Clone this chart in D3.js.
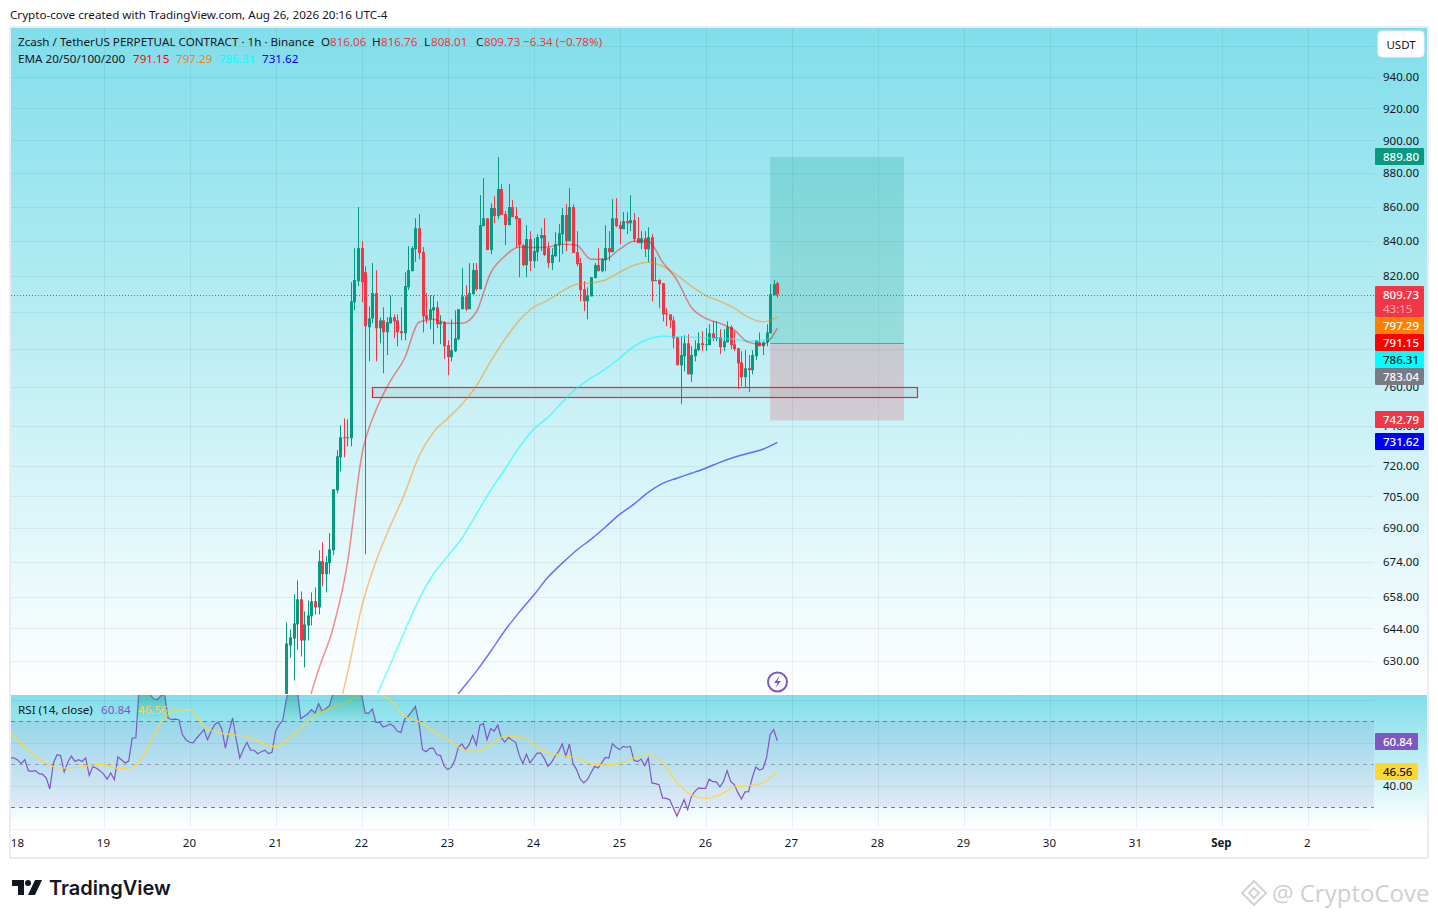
<!DOCTYPE html>
<html>
<head>
<meta charset="utf-8">
<title>ZECUSDT.P 1h</title>
<script src="https://cdn.jsdelivr.net/npm/d3@7"></script>
<style>
  html, body { margin: 0; padding: 0; background: #fff; }
  svg { display: block; }
  text { font-family: "Noto Sans", sans-serif; font-size: 11.5px; fill: #131722; }
  text.label { font-size: 11.65px; }
</style>
</head>
<body>
<svg id="chart" width="1438" height="918"></svg>
<script>
// hourly candles, oldest first, the first one opens at firstBar
const firstBar = Date.UTC(2026, 7, 21, 3);
const lastBar = Date.UTC(2026, 7, 26, 20);

const opens = [
  610.5,636.5,639.6,645.8,657.0,638.7,645.3,649.4,656.1,653.4,
  674.4,668.4,673.5,679.5,708.0,724.2,734.2,733.7,733.7,805.5,
  817.2,835.9,822.2,791.8,796.6,810.5,791.2,795.5,789.0,793.9,
  797.2,795.5,789.6,788.5,813.8,822.8,835.3,847.4,833.6,798.3,
  796.1,801.0,802.7,793.4,794.5,782.1,775.7,778.9,785.3,801.6,
  808.7,801.6,809.9,823.4,812.7,848.6,853.2,834.8,859.2,854.5,
  870.5,855.7,849.2,859.8,854.5,853.2,837.6,826.2,841.1,828.5,
  833.6,841.6,843.4,835.9,827.4,831.4,837.6,844.0,855.1,839.9,
  859.8,833.6,827.4,812.7,806.0,808.7,818.9,826.2,822.8,829.0,
  835.9,833.6,853.2,849.2,846.9,851.5,850.3,852.1,841.6,838.8,
  841.6,835.3,842.2,817.2,817.8,816.1,799.4,798.8,795.5,786.4,
  771.4,776.2,783.1,766.6,776.2,779.4,783.1,782.1,782.1,788.5,
  785.8,786.4,781.0,783.6,791.8,782.6,780.5,772.9,765.1,769.8,
  768.8,776.2,783.6,781.5,783.6,788.5,809.3,816.06
];
const highs = [
  646.7,643.6,659.2,665.6,660.6,651.6,656.5,660.1,662.4,679.5,
  683.2,676.7,687.5,708.5,727.7,740.3,743.8,743.3,816.6,835.9,
  859.8,839.9,825.6,803.2,827.4,823.4,797.2,802.7,797.2,809.3,
  798.8,798.8,802.7,822.2,837.0,837.0,853.2,855.7,836.5,810.5,
  809.3,809.3,806.0,798.3,795.0,784.7,796.1,801.0,801.6,824.5,
  814.9,827.4,827.4,827.4,866.9,877.0,853.2,862.1,866.3,889.8,
  873.4,857.5,873.4,863.9,859.8,853.2,838.2,849.2,845.7,841.6,
  844.0,847.4,853.2,839.3,835.9,845.1,849.8,859.2,861.5,871.1,
  861.5,845.7,830.2,817.2,813.8,819.4,827.4,835.9,830.2,849.2,
  845.7,864.5,865.1,851.5,856.9,856.9,866.9,856.3,853.9,845.7,
  845.7,848.0,844.0,830.8,818.3,816.1,802.2,798.8,797.7,786.4,
  786.9,787.4,788.0,781.5,784.7,789.0,789.6,791.2,793.4,795.0,
  795.0,790.7,790.7,795.0,792.8,789.6,780.5,778.9,779.4,776.8,
  779.4,784.7,789.0,784.2,793.4,815.5,817.8,816.76
];
const lows = [
  608.4,631.3,621.4,634.8,631.7,627.0,638.7,645.3,650.2,650.2,
  662.9,660.1,668.4,677.2,706.5,717.3,724.2,729.7,729.7,801.0,
  814.4,805.5,677.6,773.5,793.9,773.5,783.1,767.2,776.8,793.9,
  785.8,781.5,784.7,784.7,812.2,822.8,828.0,829.6,789.0,793.9,
  790.7,782.6,791.2,782.6,774.6,766.1,773.5,778.4,784.7,801.6,
  800.5,801.6,809.9,811.6,812.7,848.6,834.8,832.5,850.3,852.7,
  855.1,837.6,849.2,853.9,836.5,819.4,825.6,819.4,822.8,824.5,
  828.5,834.2,831.4,824.5,823.4,830.8,828.0,832.5,834.2,839.9,
  833.1,825.6,806.0,800.5,796.1,808.7,818.9,822.8,822.2,822.8,
  828.5,833.6,848.0,838.2,846.9,844.0,845.7,839.3,838.8,835.3,
  830.8,828.0,806.0,817.2,802.2,795.0,792.3,791.2,780.5,771.4,
  751.1,768.2,766.6,762.5,773.5,778.9,778.9,778.9,782.1,784.2,
  784.2,777.3,778.9,783.6,780.0,778.9,758.8,760.4,759.9,757.3,
  766.6,774.1,781.5,776.8,781.5,788.5,809.3,808.01
];
const closes = [
  637.4,640.1,646.2,657.0,638.7,645.8,649.8,656.1,653.4,674.4,
  668.4,673.9,679.9,708.5,724.7,734.2,733.7,734.2,806.0,817.8,
  835.9,816.6,792.3,796.6,810.5,791.2,795.5,789.0,794.5,797.2,
  795.0,789.0,788.5,814.4,823.4,835.9,847.4,833.1,797.7,796.1,
  801.6,802.7,793.4,794.5,781.5,775.7,779.4,785.8,801.6,808.7,
  801.6,810.5,823.4,812.7,849.2,853.2,834.8,859.2,854.5,870.5,
  855.1,849.2,859.8,853.9,852.7,837.6,826.2,841.1,828.5,834.2,
  842.2,843.4,832.0,827.4,832.0,838.2,844.5,855.1,839.9,859.8,
  833.1,826.8,812.2,806.0,809.3,819.4,826.2,822.8,829.6,835.9,
  833.6,853.2,848.6,846.9,851.5,850.3,852.1,841.1,838.8,841.6,
  835.3,842.2,817.2,817.8,815.5,798.8,798.8,795.5,785.8,771.4,
  776.8,783.1,766.6,776.8,780.0,783.1,782.1,782.6,788.5,785.8,
  786.4,781.0,784.2,791.8,782.1,780.0,772.4,765.1,769.8,768.8,
  776.8,784.7,781.5,783.6,789.0,809.9,815.5,809.73
];

// these are read every 4 hours, newest first, going back from lastBar
const ema20 = [791.15,782.6,783.6,790.2,793.9,796.6,802.7,817.8,827.9,839.9,839.9,835.3,829.6,829.6,837.6,838.2,836.5,836.2,836.5,831.4,821.7,800.0,793.9,793.9,796.1,794.5,775.1,763.0,747.9,724.7,673.0,644.0,626.1,606.3];
const ema50 = [797.29,794.7,797.2,802.2,806.0,809.3,814.4,820.6,825.6,827.9,826.2,822.2,817.8,816.1,815.5,811.6,806.5,802.7,795.5,785.3,773.5,760.4,751.1,743.8,736.7,724.7,706.3,690.8,674.4,653.4,624.0,600.0];
const ema100 = [786.31,784.7,784.2,785.3,785.8,786.1,786.4,786.6,786.9,785.3,781.5,775.1,769.3,764.6,759.3,752.1,744.3,738.2,729.2,718.3,708.0,696.4,685.1,676.7,668.4,657.0,642.7,628.3,614.3];
const ema200 = [731.62,728.2,726.2,724.2,721.7,718.8,716.3,713.9,711.4,707.0,701.3,696.4,690.3,684.6,679.5,673.5,667.0,658.8,651.2,643.1,633.9,625.3,617.7,610.1];
const rsiMa = [46.56,41.3,39.9,39.3,35.7,34.0,35.7,41.6,50.5,54.3,52.8,50.2,49.5,50.2,52.8,54.0,55.4,59.0,62.9,62.9,59.0,55.9,57.0,61.3,65.2,69.8,72.2,79.6,82.2,82.2,78.7,76.4,73.4,68.3,62.4,57.9,59.8,62.9,63.6,64.7,67.5,75.3,75.0,69.1,56.7,48.3,48.0,49.8,49.2,48.3,48.1,50.2,55.1,61.3,67.2];

// hourly, oldest first, ends at lastBar
const rsi = [
  52.9,52.8,51.9,50.2,52.0,46.9,46.6,46.9,45.5,45.2,43.5,38.4,50.5,54.3,53.9,46.3,50.8,53.7,51.2,52.0,
  51.2,52.8,44.7,48.8,48.0,46.9,45.3,43.0,45.8,42.7,53.3,52.0,50.5,51.4,62.1,62.1,87.7,89.2,88.4,82.2,
  80.2,79.9,81.8,82.7,71.4,70.6,70.9,70.6,63.6,61.3,60.1,59.8,62.1,64.0,66.0,61.3,65.2,68.3,69.5,66.3,
  57.4,65.2,71.4,61.3,52.8,56.7,60.1,56.4,56.4,54.8,55.7,56.4,54.8,55.4,65.2,68.3,70.3,80.2,86.1,86.9,
  85.3,71.1,72.2,73.4,75.3,73.7,78.1,74.5,75.7,77.1,82.7,83.8,85.3,86.1,85.8,86.1,88.4,86.1,82.2,73.7,
  73.7,75.6,69.4,69.4,67.2,67.8,68.6,67.5,65.2,
  64.7,70.9,72.2,74.5,76.8,69.1,56.7,55.7,57.3,57.4,54.3,54.0,49.2,47.4,48.4,51.6,57.8,59.3,56.7,59.0,
  63.3,58.7,68.1,68.8,61.3,66.4,65.3,68.1,62.1,60.2,62.4,61.0,60.1,54.0,50.2,54.5,50.5,52.8,55.1,55.1,
  52.5,48.9,50.8,53.6,55.9,59.3,53.6,59.3,50.2,47.4,43.0,41.2,42.7,45.8,48.9,48.1,50.5,53.1,52.8,59.5,
  57.8,56.7,58.2,57.8,58.2,51.7,51.1,52.3,49.2,52.8,41.2,40.9,40.4,34.2,34.0,33.4,29.5,25.7,29.5,33.4,
  28.8,34.7,37.3,38.8,38.7,38.7,42.9,41.8,41.7,39.3,41.9,46.9,41.9,40.4,36.8,33.7,37.0,37.1,43.5,48.6,
  47.2,47.8,52.8,63.6,66.0,60.84
];

const priceGrid = [960,940,920,900,880,860,840,820,800,780,760,740,720,705,690,674,658,644,630];
// 800 and 780 sit fully behind the price tags, so they get no label
const priceLabels = [940,920,900,880,860,840,820,760,740,720,705,690,674,658,644,630];
const rsiGrid = [80,60,40,20];
const rsiLabels = [40];
const dayTicks = [18,19,20,21,22,23,24,25,26,27,28,29,30,31].map(d => Date.UTC(2026,7,d)).concat([Date.UTC(2026,8,1), Date.UTC(2026,8,2)]);

// position tool and the support box
const positionHigh = 889.80, positionEntry = 783.04, positionLow = 742.79;
const positionTimes = [Date.UTC(2026,7,26,18), Date.UTC(2026,7,28,7,20)];
const zoneTop = 759.3, zoneBottom = 754.0;
const zoneTimes = [Date.UTC(2026,7,22,3), Date.UTC(2026,7,28,11,10)];

const green = "#089981", red = "#f23645", purple = "#7e57c2", yellow = "#fdd835";

// layout
const paneLeft = 11, paneRight = 1374, frameRight = 1427;
const mainTop = 28, mainBottom = 694, rsiTop = 695, rsiBottom = 828;

const svg = d3.select("#chart");
const HOUR = 3600000;

const x = d3.scaleUtc()
  .domain([Date.UTC(2026,7,18), Date.UTC(2026,8,2)])
  .range([17.6, 1307.6]);
const y = d3.scaleLog().domain([630, 940]).range([660.5, 77]);
const yRsi = d3.scaleLinear().domain([30, 70]).range([807, 721]);

const defs = svg.append("defs");

function addGradient(id, y1, y2) {
  const g = defs.append("linearGradient").attr("id", id)
    .attr("gradientUnits", "userSpaceOnUse")
    .attr("x1", 0).attr("x2", 0).attr("y1", y1).attr("y2", y2);
  g.append("stop").attr("offset", 0).attr("stop-color", "#80deea");
  g.append("stop").attr("offset", 1).attr("stop-color", "#ffffff");
}
addGradient("bgMain", mainTop, mainBottom);
addGradient("bgRsi", rsiTop, rsiBottom);

const overFill = defs.append("linearGradient").attr("id", "overFill")
  .attr("gradientUnits", "userSpaceOnUse")
  .attr("x1", 0).attr("x2", 0).attr("y1", rsiTop).attr("y2", yRsi(70));
overFill.append("stop").attr("offset", 0).attr("stop-color", green).attr("stop-opacity", 0.38);
overFill.append("stop").attr("offset", 1).attr("stop-color", green).attr("stop-opacity", 0.03);

function addClip(id, top, bottom) {
  defs.append("clipPath").attr("id", id).append("rect")
    .attr("x", paneLeft).attr("width", paneRight - paneLeft)
    .attr("y", top).attr("height", bottom - top);
}
addClip("clipMain", mainTop, mainBottom);
addClip("clipRsi", rsiTop, rsiBottom);
addClip("clipOver", rsiTop, yRsi(70));
addClip("clipUnder", yRsi(30), rsiBottom);

// backgrounds and frame
svg.append("rect").attr("x", 10).attr("y", 27).attr("width", 1418).attr("height", 831)
  .attr("fill", "#fff").attr("stroke", "#e9ecf2").attr("stroke-width", 2);
svg.append("rect").attr("x", paneLeft).attr("y", mainTop)
  .attr("width", frameRight - paneLeft).attr("height", mainBottom - mainTop).attr("fill", "url(#bgMain)");
svg.append("rect").attr("x", paneLeft).attr("y", rsiTop)
  .attr("width", frameRight - paneLeft).attr("height", rsiBottom - rsiTop).attr("fill", "url(#bgRsi)");

// grid
const gridColor = "rgba(42,46,57,0.07)";
const grid = svg.append("g").attr("stroke", gridColor).attr("stroke-width", 1);
grid.selectAll(".h").data(priceGrid).enter().append("line")
  .attr("x1", paneLeft).attr("x2", paneRight)
  .attr("y1", d => Math.round(y(d)) + 0.5).attr("y2", d => Math.round(y(d)) + 0.5);
grid.selectAll(".r").data(rsiGrid).enter().append("line")
  .attr("x1", paneLeft).attr("x2", paneRight)
  .attr("y1", d => Math.round(yRsi(d)) + 0.5).attr("y2", d => Math.round(yRsi(d)) + 0.5);
dayTicks.slice(1).forEach(d => {
  const px = Math.round(x(d)) + 0.5;
  grid.append("line").attr("x1", px).attr("x2", px).attr("y1", mainTop).attr("y2", mainBottom);
  grid.append("line").attr("x1", px).attr("x2", px).attr("y1", rsiTop).attr("y2", rsiBottom);
});

// main pane
const main = svg.append("g").attr("clip-path", "url(#clipMain)");

const posX0 = x(positionTimes[0]), posX1 = x(positionTimes[1]);
main.append("rect").attr("x", posX0).attr("width", posX1 - posX0)
  .attr("y", y(positionHigh)).attr("height", y(positionEntry) - y(positionHigh))
  .attr("fill", "rgba(8,153,129,0.2)");
main.append("rect").attr("x", posX0).attr("width", posX1 - posX0)
  .attr("y", y(positionEntry)).attr("height", y(positionLow) - y(positionEntry))
  .attr("fill", "rgba(242,54,69,0.2)");
main.append("line").attr("x1", posX0).attr("x2", posX1)
  .attr("y1", Math.round(y(positionEntry)) + 0.5).attr("y2", Math.round(y(positionEntry)) + 0.5)
  .attr("stroke", "rgba(120,123,134,0.8)").attr("stroke-width", 1);

const zoneX0 = x(zoneTimes[0]), zoneX1 = x(zoneTimes[1]);
main.append("rect").attr("x", Math.round(zoneX0) + 0.5).attr("width", Math.round(zoneX1 - zoneX0))
  .attr("y", Math.round(y(zoneTop)) - 0.5).attr("height", Math.round(y(zoneBottom) - y(zoneTop)))
  .attr("fill", "rgba(120,123,134,0.1)").attr("stroke", "#f7202f").attr("stroke-width", 1.2);

// current price line
main.append("line").attr("x1", paneLeft).attr("x2", paneRight)
  .attr("y1", Math.round(y(809.73)) + 0.5).attr("y2", Math.round(y(809.73)) + 0.5)
  .attr("stroke", red).attr("stroke-width", 1).attr("stroke-dasharray", "1 2");

// candles
const candles = opens.map((o, i) => ({
  t: firstBar + i * HOUR, o: o, h: highs[i], l: lows[i], c: closes[i]
}));
const candleG = main.selectAll(".candle").data(candles).enter().append("g").attr("class", "candle")
  .attr("fill", d => d.c >= d.o ? green : red)
  .attr("stroke", d => d.c >= d.o ? green : red);
candleG.append("line")
  .attr("x1", d => Math.round(x(d.t)) + 0.5).attr("x2", d => Math.round(x(d.t)) + 0.5)
  .attr("y1", d => y(d.h)).attr("y2", d => y(d.l)).attr("stroke-width", 1);
candleG.append("rect")
  .attr("x", d => Math.round(x(d.t)) - 1).attr("width", 3)
  .attr("y", d => y(Math.max(d.o, d.c)))
  .attr("height", d => Math.max(1, Math.abs(y(d.o) - y(d.c))))
  .attr("stroke", "none");

// the 4-hourly readings go oldest first into the smooth line
function fourHourly(values) {
  return values.map((v, i) => ({ t: lastBar - i * 4 * HOUR, v: v })).reverse();
}
function emaLine(values, color) {
  const line = d3.line().curve(d3.curveMonotoneX).x(d => x(d.t)).y(d => y(d.v));
  main.append("path").attr("d", line(fourHourly(values)))
    .attr("fill", "none").attr("stroke", color).attr("stroke-width", 1.5).attr("stroke-linejoin", "round");
}
emaLine(ema200, "rgba(0,0,255,0.55)");
emaLine(ema100, "rgba(0,255,255,0.55)");
emaLine(ema50, "rgba(255,140,0,0.5)");
emaLine(ema20, "rgba(255,0,0,0.45)");

// rsi pane
const rsiG = svg.append("g").attr("clip-path", "url(#clipRsi)");
rsiG.append("rect").attr("x", paneLeft).attr("width", paneRight - paneLeft)
  .attr("y", yRsi(70)).attr("height", yRsi(30) - yRsi(70))
  .attr("fill", "rgba(126,87,194,0.1)");

const rsiTime = i => lastBar - (rsi.length - 1 - i) * HOUR;
svg.append("path").attr("clip-path", "url(#clipOver)")
  .attr("d", d3.area().x((d, i) => x(rsiTime(i))).y0(yRsi(70)).y1(d => yRsi(d))(rsi))
  .attr("fill", "url(#overFill)");
svg.append("path").attr("clip-path", "url(#clipUnder)")
  .attr("d", d3.area().x((d, i) => x(rsiTime(i))).y0(yRsi(30)).y1(d => yRsi(d))(rsi))
  .attr("fill", "rgba(242,54,69,0.1)");

[[70, "#787b86"], [50, "rgba(120,123,134,0.6)"], [30, "#787b86"]].forEach(lv => {
  rsiG.append("line").attr("x1", paneLeft).attr("x2", paneRight)
    .attr("y1", Math.round(yRsi(lv[0])) + 0.5).attr("y2", Math.round(yRsi(lv[0])) + 0.5)
    .attr("stroke", lv[1]).attr("stroke-dasharray", "4 4");
});
rsiG.append("path")
  .attr("d", d3.line().x((d, i) => x(rsiTime(i))).y(d => yRsi(d))(rsi))
  .attr("fill", "none").attr("stroke", purple).attr("stroke-width", 1.2);
rsiG.append("path")
  .attr("d", d3.line().curve(d3.curveMonotoneX).x(d => x(d.t)).y(d => yRsi(d.v))(fourHourly(rsiMa)))
  .attr("fill", "none").attr("stroke", yellow).attr("stroke-width", 1.2);

// axes
const priceAxis = svg.append("g").attr("transform", "translate(1383,0)")
  .call(d3.axisRight(y).tickValues(priceLabels).tickFormat(d3.format(".2f")).tickSize(0).tickPadding(0));
const rsiAxis = svg.append("g").attr("transform", "translate(1383,0)")
  .call(d3.axisRight(yRsi).tickValues(rsiLabels).tickFormat(d3.format(".2f")).tickSize(0).tickPadding(0));
const timeAxis = svg.append("g").attr("transform", "translate(-0.7,839)")
  .call(d3.axisBottom(x).tickValues(dayTicks)
    .tickFormat(d => { const dt = new Date(d); return dt.getUTCDate() === 1 ? "Sep" : dt.getUTCDate(); })
    .tickSize(0).tickPadding(0));
[priceAxis, rsiAxis, timeAxis].forEach(a => {
  a.select(".domain").remove();
  a.attr("font-family", null).attr("font-size", null);
  a.selectAll("text").attr("fill", null);
});
timeAxis.selectAll("text").style("font-weight", d => new Date(d).getUTCDate() === 1 ? 700 : 400);

// price tags on the right stack downward so they never overlap
const priceTags = [
  { v: 889.80, fill: green, ink: "#fff" },
  { v: 809.73, fill: red, ink: "#fff", sub: "43:15" },
  { v: 797.29, fill: "#ff7f00", ink: "#fff" },
  { v: 791.15, fill: "#ff0000", ink: "#fff" },
  { v: 786.31, fill: "#00ffff", ink: "#131722" },
  { v: 783.04, fill: "#787b86", ink: "#fff" },
  { v: 742.79, fill: red, ink: "#fff" },
  { v: 731.62, fill: "#0000ff", ink: "#fff" }
];
let tagBottom = 0;
priceTags.forEach(t => {
  const h = t.sub ? 31 : 17;
  const top = Math.max(Math.round(y(t.v)) - 9, tagBottom);
  tagBottom = top + h;
  svg.append("rect").attr("x", 1375).attr("y", top).attr("width", 49).attr("height", h).attr("rx", 1).attr("fill", t.fill);
  svg.append("text").attr("x", 1383).attr("y", top + 12.5).style("fill", t.ink).style("font-weight", 500).text(t.v.toFixed(2));
  if (t.sub) {
    svg.append("text").attr("x", 1383).attr("y", top + 27).style("fill", "rgba(255,255,255,0.6)").text(t.sub);
  }
});
[{ v: 60.84, fill: purple, ink: "#fff" }, { v: 46.56, fill: yellow, ink: "#131722" }].forEach(t => {
  const top = Math.round(yRsi(t.v)) - 8;
  svg.append("rect").attr("x", 1375).attr("y", top).attr("width", 43).attr("height", 17).attr("rx", 1).attr("fill", t.fill);
  svg.append("text").attr("x", 1383).attr("y", top + 12.5).style("fill", t.ink).style("font-weight", 500).text(t.v.toFixed(2));
});

// unit button
svg.append("rect").attr("x", 1378).attr("y", 31).attr("width", 46).attr("height", 26).attr("rx", 4)
  .attr("fill", "#fff").attr("stroke", "#eef1f6");
svg.append("text").attr("x", 1401).attr("y", 48.5).attr("text-anchor", "middle").text("USDT");

// header and legends
svg.append("text").attr("class", "label").attr("x", 10).attr("y", 19).text("Crypto-cove created with TradingView.com, Aug 26, 2026 20:16 UTC-4");

function legend(yPos, parts) {
  parts.forEach(p => {
    svg.append("text").attr("class", "label").attr("x", p[0]).attr("y", yPos).style("fill", p[2] || "#131722").text(p[1]);
  });
}
legend(46, [
  [18, "Zcash / TetherUS PERPETUAL CONTRACT · 1h · Binance"],
  [321, "O"], [330, "816.06", red],
  [372, "H"], [381, "816.76", red],
  [424, "L"], [431, "808.01", red],
  [476, "C"], [484, "809.73", red],
  [523, "−6.34 (−0.78%)", red]
]);
legend(63, [
  [18, "EMA 20/50/100/200"],
  [133, "791.15", "#ff0000"], [176, "797.29", "#ff7f00"], [219, "786.31", "#00ffff"], [262, "731.62", "#0000ff"]
]);
legend(714, [
  [18, "RSI (14, close)"],
  [101, "60.84", purple], [138, "46.56", yellow]
]);

// alert bolt
svg.append("circle").attr("cx", 777.5).attr("cy", 682).attr("r", 9.5)
  .attr("fill", "rgba(255,255,255,0.4)").attr("stroke", purple).attr("stroke-width", 2);
svg.append("path").attr("d", "M779.5 676 L774 683 H777.5 L775.5 688 L781 681 H777.5 Z").attr("fill", purple);

// logo
const logo = svg.append("g").attr("fill", "#131722");
logo.append("path").attr("d", "M12 880 H24 V895 H18 V886 H12 Z");
logo.append("circle").attr("cx", 28).attr("cy", 883).attr("r", 3);
logo.append("path").attr("d", "M42 880 L35 895 H28 L35 880 Z");
svg.append("text").attr("x", 49).attr("y", 895).style("font-family", "Inter, sans-serif")
  .style("font-size", "20px").style("font-weight", 600).text("TradingView");

// watermark
const wm = svg.append("g").attr("fill", "none").attr("stroke", "#d3d3d6").attr("stroke-width", 2);
wm.append("path").attr("d", "M1254 881 L1266 893 L1254 905 L1242 893 Z");
wm.append("path").attr("d", "M1254 888 L1259 893 L1254 898 L1249 893 Z");
svg.append("text").attr("x", 1272).attr("y", 902).style("font-family", "'Open Sans', sans-serif")
  .style("font-size", "24px").style("fill", "#cfcfd3").text("@ CryptoCove");
</script>
</body>
</html>
